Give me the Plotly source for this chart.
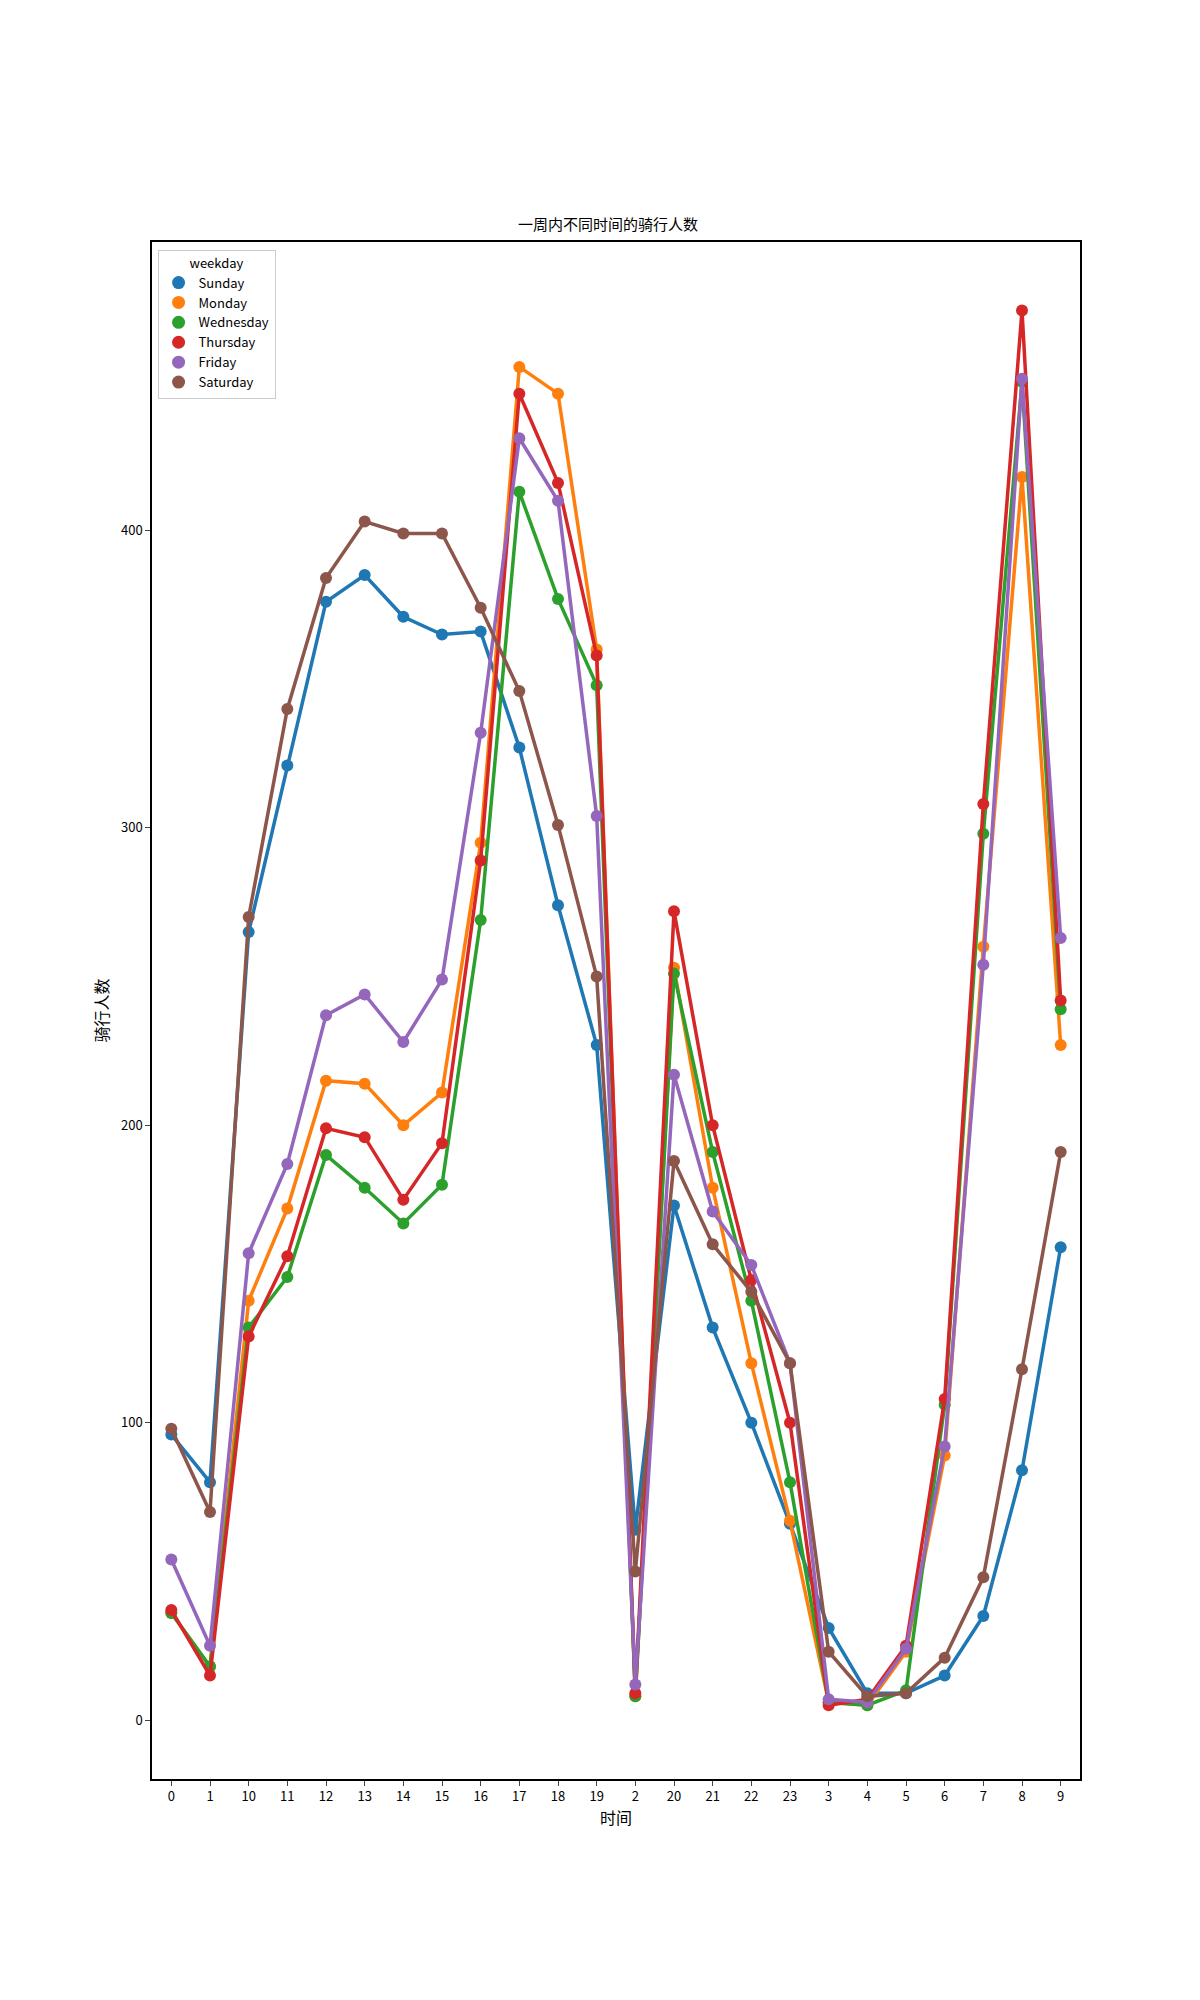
import plotly.graph_objects as go

hours = ["0", "1", "10", "11", "12", "13", "14", "15", "16", "17", "18", "19",
         "2", "20", "21", "22", "23", "3", "4", "5", "6", "7", "8", "9"]

sunday = [96, 80, 265, 321, 376, 385, 371, 365, 366, 327, 274, 227,
          64, 173, 132, 100, 66, 31, 9, 9, 15, 35, 84, 159]
monday = [36, 18, 141, 172, 215, 214, 200, 211, 295, 455, 446, 360,
          8, 253, 179, 120, 67, 6, 5, 23, 89, 260, 418, 227]
wednesday = [36, 18, 132, 149, 190, 179, 167, 180, 269, 413, 377, 348,
             8, 251, 191, 141, 80, 6, 5, 10, 106, 298, 450, 239]
thursday = [37, 15, 129, 156, 199, 196, 175, 194, 289, 446, 416, 358,
            9, 272, 200, 148, 100, 5, 7, 25, 108, 308, 474, 242]
friday = [54, 25, 157, 187, 237, 244, 228, 249, 332, 431, 410, 304,
          12, 217, 171, 153, 120, 7, 6, 24, 92, 254, 451, 263]
saturday = [98, 70, 270, 340, 384, 403, 399, 399, 374, 346, 301, 250,
            50, 188, 160, 144, 120, 23, 8, 9, 21, 48, 118, 191]

series = [
    ("Sunday", sunday, "#1f77b4"),
    ("Monday", monday, "#ff7f0e"),
    ("Wednesday", wednesday, "#2ca02c"),
    ("Thursday", thursday, "#d62728"),
    ("Friday", friday, "#9467bd"),
    ("Saturday", saturday, "#8c564b"),
]

font = "Noto Sans CJK SC, DejaVu Sans"

fig = go.Figure()
for name, vals, color in series:
    fig.add_trace(go.Scatter(
        x=hours, y=vals, name=name, mode="lines+markers", showlegend=False,
        line=dict(color=color, width=3.5),
        marker=dict(color=color, size=12),
    ))
# legend entries: dots only, like seaborn pointplot
for name, vals, color in series:
    fig.add_trace(go.Scatter(
        x=[None], y=[None], name=name, mode="markers",
        marker=dict(color=color, size=13),
    ))

fig.update_layout(
    width=1200, height=2000,
    margin=dict(l=144, r=128, t=234, b=229),
    paper_bgcolor="white", plot_bgcolor="white",
    font=dict(family=font, size=13, color="black"),
    title=dict(text="一周内不同时间的骑行人数", x=0.5, xanchor="center",
               y=1 - 222 / 2000, yanchor="bottom", font=dict(size=15)),
    legend=dict(title=dict(text="weekday", side="top center", font=dict(size=13)),
                x=0.006, y=0.995, xanchor="left", yanchor="top",
                bordercolor="#cccccc", borderwidth=1,
                bgcolor="rgba(255,255,255,0.8)", font=dict(size=13)),
    showlegend=True,
)
fig.update_xaxes(
    type="category", categoryorder="array", categoryarray=hours,
    range=[-0.5, len(hours) - 0.5],
    showline=True, linecolor="black", linewidth=1.5, mirror=True,
    ticks="outside", ticklen=5, showgrid=False, zeroline=False,
    title=dict(text="时间", standoff=8),
)
fig.update_yaxes(
    range=[-19.8, 497], tickvals=[0, 100, 200, 300, 400],
    showline=True, linecolor="black", linewidth=1.5, mirror=True,
    ticks="outside", ticklen=5, showgrid=False, zeroline=False,
    title=dict(text="骑行人数", standoff=8),
)

fig.write_html("out.html")
